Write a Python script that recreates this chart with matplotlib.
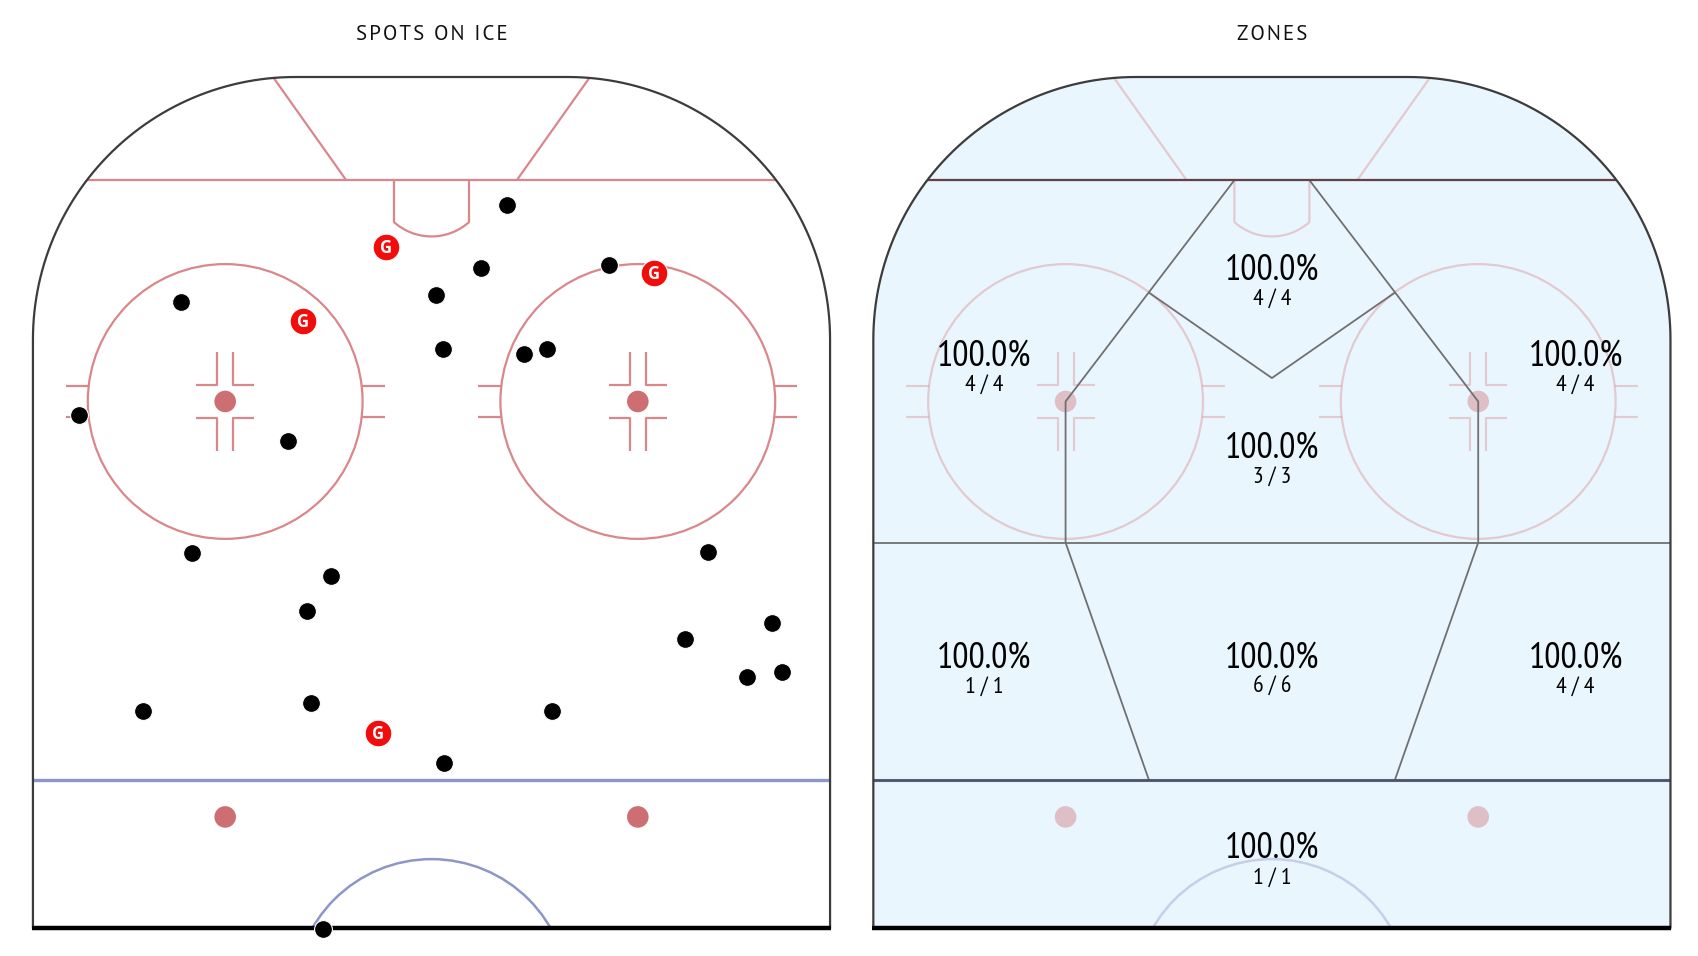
import numpy as np
import matplotlib
matplotlib.use("Agg")
import matplotlib.pyplot as plt
from matplotlib.patches import Polygon, Circle

# shot locations in feet: x across the ice (0 = middle), y down from the end boards
shot_x = [8.0, 5.3, 0.5, 18.9, -26.7, 1.2, 9.9, 12.3, -37.6, -15.3, -25.5, -10.7,
          -13.3, 29.5, 36.3, 27.0, 37.4, 33.6, -30.8, -12.9, 12.9, 1.3, -11.6]
shot_y = [13.7, 20.4, 23.2, 20.0, 24.0, 29.0, 29.5, 29.0, 36.0, 38.8, 50.8, 53.2,
          56.9, 50.6, 58.2, 59.9, 63.4, 64.0, 67.6, 66.7, 67.6, 73.1, 90.8]
goal_x = [-4.8, 23.7, -13.7, -5.7]
goal_y = [18.1, 20.9, 26.0, 70.0]

# zones: top slot, left, right, middle slot, low left, low slot, low right, neutral
zone_pct = ["100.0%", "100.0%", "100.0%", "100.0%", "100.0%", "100.0%", "100.0%", "100.0%"]
zone_count = ["4 / 4", "4 / 4", "4 / 4", "3 / 3", "1 / 1", "6 / 6", "4 / 4", "1 / 1"]
LABEL_POS = [(0, 20.1), (-30.7, 29.3), (32.4, 29.3), (0, 39.1),
             (-30.7, 61.5), (0, 61.5), (32.4, 61.5), (0, 81.8)]

# rink geometry (feet)
HALF_W = 42.5
CORNER_R = 28
BOTTOM = 90.7
GOAL_LINE = 11
BLUE_LINE = 75
DOT_X, DOT_Y = 22, 34.6
CIRCLE_R = 14.65
NZ_DOT_Y = 78.9
CENTER_Y = 98.05
SLOT_Y = 49.65

SCALE = 9.378  # px per foot
W, H = 1698, 956

RED = "#d9878b"
DOT_RED = "#cd6e73"
BLUE = "#8e95c8"
NUM_FONT = ["PT Sans Narrow", "Roboto Condensed", "Lato", "DejaVu Sans"]
TITLE_FONT = ["PT Sans", "Open Sans", "DejaVu Sans"]


def rink_outline():
    t = np.linspace(np.pi, np.pi / 2, 60)
    left = np.column_stack([-HALF_W + CORNER_R + CORNER_R * np.cos(t), CORNER_R - CORNER_R * np.sin(t)])
    t = np.linspace(np.pi / 2, 0, 60)
    right = np.column_stack([HALF_W - CORNER_R + CORNER_R * np.cos(t), CORNER_R - CORNER_R * np.sin(t)])
    return np.vstack([[[-HALF_W, BOTTOM]], left, right, [[HALF_W, BOTTOM]]])


def make_axes(fig, cx_px):
    x0, x1, y0, y1 = -43.5, 43.5, -1, 93
    left = cx_px - (0 - x0) * SCALE
    top = 77 - (0 - y0) * SCALE
    w = (x1 - x0) * SCALE
    h = (y1 - y0) * SCALE
    ax = fig.add_axes([left / W, 1 - (top + h) / H, w / W, h / H])
    ax.set_xlim(x0, x1)
    ax.set_ylim(y1, y0)
    ax.axis("off")
    return ax


def draw_rink(ax, fill, alpha):
    outline = rink_outline()
    rink = Polygon(outline, closed=True, fc=fill, ec="none", zorder=0)
    ax.add_patch(rink)
    arts = []
    kw = dict(color=RED, lw=1.6, alpha=alpha, zorder=1, solid_capstyle="butt")
    arts += ax.plot([-HALF_W, HALF_W], [GOAL_LINE, GOAL_LINE], **kw)
    # trapezoid
    arts += ax.plot([-16.9, -9.1], [0, GOAL_LINE], **kw)
    arts += ax.plot([16.9, 9.1], [0, GOAL_LINE], **kw)
    # crease
    a0 = np.arccos(4 / 6)
    th = np.linspace(np.pi - a0, a0, 40)
    cx = np.concatenate([[-4], 6 * np.cos(th), [4]])
    cy = np.concatenate([[GOAL_LINE], GOAL_LINE + 6 * np.sin(th), [GOAL_LINE]])
    arts += ax.plot(cx, cy, **kw)
    for dx in (-DOT_X, DOT_X):
        arts.append(ax.add_patch(Circle((dx, DOT_Y), CIRCLE_R, fill=False, ec=RED, lw=1.6,
                                        alpha=alpha, zorder=1)))
        for s in (-1, 1):
            for hy in (-1.7, 1.7):
                x_in = dx + s * np.sqrt(CIRCLE_R ** 2 - hy ** 2)
                arts += ax.plot([x_in, dx + s * 17], [DOT_Y + hy, DOT_Y + hy], **kw)
                arts += ax.plot([dx + s * 0.85, dx + s * 0.85, dx + s * 3.1],
                                [DOT_Y + np.sign(hy) * 5.3, DOT_Y + np.sign(hy) * 1.75,
                                 DOT_Y + np.sign(hy) * 1.75], **kw)
        arts.append(ax.add_patch(Circle((dx, DOT_Y), 1.15, fc=DOT_RED, ec="none", alpha=alpha, zorder=1)))
        arts.append(ax.add_patch(Circle((dx, NZ_DOT_Y), 1.15, fc=DOT_RED, ec="none", alpha=alpha, zorder=1)))
    arts += ax.plot([-HALF_W, HALF_W], [BLUE_LINE, BLUE_LINE], color=BLUE, lw=2.4, alpha=alpha, zorder=1)
    arts.append(ax.add_patch(Circle((0, CENTER_Y), CIRCLE_R, fill=False, ec=BLUE, lw=1.8,
                                    alpha=alpha, zorder=1)))
    for a in arts:
        a.set_clip_path(rink)
    # boards
    ax.plot(outline[:, 0], outline[:, 1], color="#3c3c3c", lw=1.6, zorder=4)
    ax.plot([-HALF_W - 0.1, HALF_W + 0.1], [BOTTOM, BOTTOM], color="black", lw=3.2,
            zorder=4, solid_capstyle="butt")
    return rink


fig = plt.figure(figsize=(W / 100, H / 100), dpi=100)

# left panel: spots on ice
ax1 = make_axes(fig, 431.5)
draw_rink(ax1, "white", 1.0)
ax1.scatter(shot_x, shot_y, s=165, c="black", edgecolors="white", linewidths=0.8, zorder=5, clip_on=False)
ax1.scatter(goal_x, goal_y, s=370, c="#f20d0d", edgecolors="white", linewidths=0.8, zorder=6, clip_on=False)
for gx, gy in zip(goal_x, goal_y):
    ax1.text(gx, gy + 0.1, "G", color="white", fontsize=12, fontweight="bold", ha="center",
             va="center", family=["Open Sans", "DejaVu Sans"], zorder=7)

# right panel: zones
ax2 = make_axes(fig, 1271.9)
rink2 = draw_rink(ax2, "#eaf6fe", 0.4)
zone_kw = dict(color="#707070", lw=1.3, zorder=3)
zone_lines = [
    ([-4, -DOT_X, -DOT_X, -13.1], [GOAL_LINE, DOT_Y, SLOT_Y, BLUE_LINE]),
    ([4, DOT_X, DOT_X, 13.1], [GOAL_LINE, DOT_Y, SLOT_Y, BLUE_LINE]),
    ([-13.1, 0, 13.1], [23.0, 32.1, 23.0]),
    ([-HALF_W, HALF_W], [SLOT_Y, SLOT_Y]),
]
for xs, ys in zone_lines:
    ln, = ax2.plot(xs, ys, **zone_kw)
    ln.set_clip_path(rink2)
ln, = ax2.plot([-HALF_W, HALF_W], [GOAL_LINE, GOAL_LINE], color="#5e444a", lw=1.6, zorder=3)
ln.set_clip_path(rink2)
ln, = ax2.plot([-HALF_W, HALF_W], [BLUE_LINE, BLUE_LINE], color="#4c526c", lw=2.0, zorder=3)
ln.set_clip_path(rink2)

for (lx, ly), pct, cnt in zip(LABEL_POS, zone_pct, zone_count):
    ax2.text(lx, ly + 0.45, pct, fontsize=26, ha="center", va="center", color="black",
             family=NUM_FONT, zorder=5)
    ax2.text(lx, ly + 3.6, cnt, fontsize=17, ha="center", va="center", color="black",
             family=NUM_FONT, zorder=5)

for cx_px, title in ((431.5, "SPOTS ON ICE"), (1271.9, "ZONES")):
    fig.text(cx_px / W, 1 - 34 / H, "\u200a".join(title), ha="center", va="center",
             fontsize=15, family=TITLE_FONT, color="#111111")

fig.savefig("out.png", dpi=100, facecolor="white")
